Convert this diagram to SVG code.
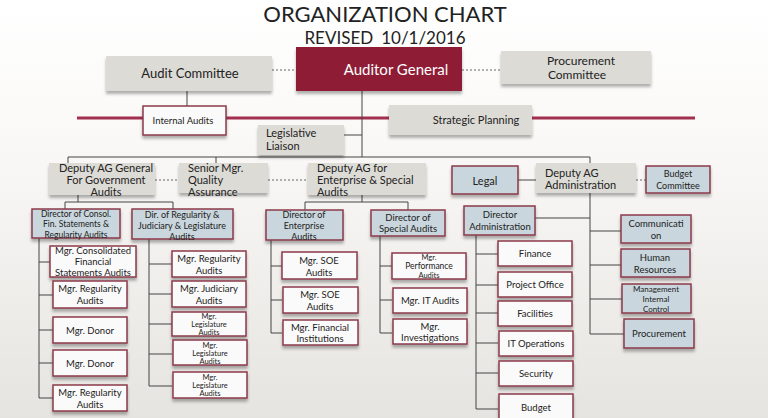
<svg xmlns="http://www.w3.org/2000/svg" width="768" height="418" viewBox="0 0 768 418">
<defs>
<linearGradient id="bg" x1="0" y1="0" x2="0" y2="1"><stop offset="0" stop-color="#ffffff"/><stop offset="0.4" stop-color="#f8f7f5"/><stop offset="1" stop-color="#e6e4e0"/></linearGradient>
<filter id="sh" x="-10%" y="-10%" width="130%" height="150%"><feDropShadow dx="0" dy="3" stdDeviation="1.5" flood-color="#000" flood-opacity="0.3"/></filter>
</defs>
<style>
text{font-family:Lato,"Open Sans","Liberation Sans",sans-serif;fill:#222;text-anchor:middle}
.g{fill:#dddbd6;filter:url(#sh)}
.w{fill:#fbfafa;stroke:#8a3a4a;stroke-width:1.5;filter:url(#sh)}
.b{fill:#c9d6dd;stroke:#8a3a4a;stroke-width:1.5;filter:url(#sh)}
.l{stroke:#444;stroke-width:1;fill:none}
.d{stroke:#666;stroke-width:1;stroke-dasharray:2 2;fill:none}
.s{font-size:9.5px}
.t{font-size:7.5px}
</style>
<rect width="768" height="418" fill="url(#bg)"/>
<text x="385" y="22" font-size="22">ORGANIZATION CHART</text>
<text x="385" y="44" font-size="17">REVISED<tspan dx="8">10/1/2016</tspan></text>
<g id="connectors">
<line x1="77" y1="118" x2="695" y2="118" stroke="#a3304f" stroke-width="3"/>
<path class="l" d="M362 91V157M187 91V106M344 135H362M68 157H590M68 157V163M216 157V163M590 157V163"/>
<path class="d" d="M272 70H296M462 70H501M155 180H179M268 180H308M636 180H646"/>
<path class="l" d="M518 180H536"/>
<path class="l" d="M78 195V202M65 202H173M65 202V209M173 202V209"/>
<path class="l" d="M362 195V202M305 202H408M305 202V210M408 202V210"/>
<path class="l" d="M39 238V398M39 262H50M39 295H53M39 330H53M39 363H53M39 398H53"/>
<path class="l" d="M149 239V386M149 264H172M149 294H172M149 324H172M149 354H172M149 386H172"/>
<path class="l" d="M271 240V333M271 266H282M271 300H282M271 333H282"/>
<path class="l" d="M380 236V333M380 266H392M380 300H392M380 333H392"/>
<path class="l" d="M476 235V409M476 254H498M476 285H498M476 313H498M476 343H498M476 373H498M476 409H498"/>
<path class="l" d="M535 218H590M590 193V334M590 231H621M590 265H621M590 299H622M590 334H624"/>
</g>
<g id="auditor-general"><rect x="296" y="47" width="166" height="44" fill="#8e1a36" filter="url(#sh)"/><text x="396" y="75" font-size="15" style="fill:#fff">Auditor General</text></g>
<g id="audit-committee"><rect class="g" x="106" y="56" width="166" height="35"/><text x="190" y="78" font-size="13">Audit Committee</text></g>
<g id="procurement-committee"><rect class="g" x="501" y="51" width="150" height="33"/><text x="581" y="65" font-size="12">Procurement</text><text x="577" y="79" font-size="12">Committee</text></g>
<g id="internal-audits"><rect class="w" x="143" y="106" width="83" height="29"/><text x="183" y="124" font-size="9.5">Internal  Audits</text></g>
<g id="strategic-planning"><rect class="g" x="389" y="105" width="143" height="30"/><text x="476" y="124" font-size="11">Strategic Planning</text></g>
<g id="legislative-liaison"><rect class="g" x="258" y="125" width="86" height="30"/><text x="266" y="137" font-size="11" style="text-anchor:start">Legislative</text><text x="266" y="150" font-size="11" style="text-anchor:start">Liaison</text></g>
<g id="deputy-ag-gov"><rect class="g" x="49" y="163" width="106" height="32"/><text x="106" y="172" font-size="11">Deputy AG General</text><text x="106" y="184" font-size="11">For Government</text><text x="106" y="196" font-size="11">Audits</text></g>
<g id="senior-qa"><rect class="g" x="179" y="163" width="89" height="30"/><text x="188" y="172" font-size="11" style="text-anchor:start">Senior Mgr.</text><text x="188" y="184" font-size="11" style="text-anchor:start">Quality</text><text x="188" y="196" font-size="11" style="text-anchor:start">Assurance</text></g>
<g id="deputy-ag-ent"><rect class="g" x="308" y="163" width="118" height="32"/><text x="317" y="172" font-size="11" style="text-anchor:start">Deputy AG for</text><text x="317" y="184" font-size="11" style="text-anchor:start">Enterprise &amp; Special</text><text x="317" y="196" font-size="11" style="text-anchor:start">Audits</text></g>
<g id="legal"><rect class="b" x="452" y="166" width="66" height="28"/><text x="485" y="185" font-size="11">Legal</text></g>
<g id="deputy-ag-admin"><rect class="g" x="536" y="163" width="100" height="30"/><text x="545" y="177" font-size="11" style="text-anchor:start">Deputy AG</text><text x="545" y="189" font-size="11" style="text-anchor:start">Administration</text></g>
<g id="budget-committee"><rect class="b" x="646" y="166" width="64" height="27"/><text x="678" y="177" font-size="9">Budget</text><text x="678" y="189" font-size="9">Committee</text></g>
<g id="dir-consol"><rect class="b" x="32" y="209" width="88" height="29"/><text x="76" y="217" font-size="8.5">Director of Consol.</text><text x="76" y="227" font-size="8.5">Fin. Statements &amp;</text><text x="76" y="238" font-size="8.5">Regularity Audits</text></g>
<g id="dir-regularity"><rect class="b" x="132" y="209" width="101" height="30"/><text x="182" y="218" font-size="9">Dir. of Regularity &amp;</text><text x="182" y="229" font-size="9">Judiciary &amp; Legislature</text><text x="182" y="240" font-size="9">Audits</text></g>
<g id="dir-enterprise"><rect class="b" x="266" y="210" width="77" height="30"/><text x="304" y="218" font-size="9">Director of</text><text x="304" y="229" font-size="9">Enterprise</text><text x="304" y="240" font-size="9">Audits</text></g>
<g id="dir-special"><rect class="b" x="371" y="210" width="74" height="26"/><text x="408" y="221" font-size="9.5">Director of</text><text x="408" y="232" font-size="9.5">Special Audits</text></g>
<g id="dir-admin"><rect class="b" x="464" y="206" width="71" height="29"/><text x="500" y="218" font-size="9.5">Director</text><text x="500" y="230" font-size="9.5">Administration</text></g>
<g id="mgr-consolidated"><rect class="w" x="50" y="246" width="86" height="31"/><text x="93" y="254" class="s">Mgr. Consolidated</text><text x="93" y="265" class="s">Financial</text><text x="93" y="276" class="s">Statements Audits</text></g>
<g id="mgr-reg1"><rect class="w" x="53" y="281" width="74" height="27"/><text x="90" y="292" class="s">Mgr. Regularity</text><text x="90" y="304" class="s">Audits</text></g>
<g id="mgr-donor1"><rect class="w" x="53" y="317" width="74" height="26"/><text x="90" y="334" class="s">Mgr. Donor</text></g>
<g id="mgr-donor2"><rect class="w" x="53" y="350" width="74" height="26"/><text x="90" y="367" class="s">Mgr. Donor</text></g>
<g id="mgr-reg2"><rect class="w" x="53" y="385" width="74" height="26"/><text x="90" y="396" class="s">Mgr. Regularity</text><text x="90" y="408" class="s">Audits</text></g>
<g id="mgr-reg3"><rect class="w" x="172" y="251" width="74" height="26"/><text x="209" y="262" class="s">Mgr. Regularity</text><text x="209" y="274" class="s">Audits</text></g>
<g id="mgr-jud"><rect class="w" x="172" y="281" width="74" height="26"/><text x="209" y="292" class="s">Mgr. Judiciary</text><text x="209" y="304" class="s">Audits</text></g>
<g id="mgr-leg1"><rect class="w" x="172" y="312" width="74" height="24"/><text x="209" y="319" class="t">Mgr.</text><text x="209" y="327" class="t">Legislature</text><text x="209" y="335" class="t">Audits</text></g>
<g id="mgr-leg2"><rect class="w" x="173" y="340" width="74" height="25"/><text x="210" y="348" class="t">Mgr.</text><text x="210" y="356" class="t">Legislature</text><text x="210" y="364" class="t">Audits</text></g>
<g id="mgr-leg3"><rect class="w" x="173" y="372" width="74" height="26"/><text x="210" y="380" class="t">Mgr.</text><text x="210" y="388" class="t">Legislature</text><text x="210" y="396" class="t">Audits</text></g>
<g id="mgr-soe1"><rect class="w" x="282" y="252" width="75" height="27"/><text x="319" y="264" class="s">Mgr. SOE</text><text x="319" y="276" class="s">Audits</text></g>
<g id="mgr-soe2"><rect class="w" x="283" y="287" width="75" height="26"/><text x="320" y="298" class="s">Mgr. SOE</text><text x="320" y="310" class="s">Audits</text></g>
<g id="mgr-fin"><rect class="w" x="283" y="320" width="75" height="25"/><text x="320" y="331" class="s">Mgr. Financial</text><text x="320" y="342" class="s">Institutions</text></g>
<g id="mgr-perf"><rect class="w" x="392" y="253" width="74" height="26"/><text x="429" y="260" class="t">Mgr.</text><text x="429" y="269" font-size="8.5">Performance</text><text x="429" y="278" class="t">Audits</text></g>
<g id="mgr-it"><rect class="w" x="393" y="288" width="74" height="25"/><text x="430" y="304" class="s">Mgr. IT Audits</text></g>
<g id="mgr-inv"><rect class="w" x="393" y="319" width="74" height="25"/><text x="430" y="330" class="s">Mgr.</text><text x="430" y="341" class="s">Investigations</text></g>
<g id="finance"><rect class="w" x="498" y="241" width="74" height="25"/><text x="535" y="257" class="s">Finance</text></g>
<g id="project-office"><rect class="w" x="498" y="272" width="74" height="25"/><text x="535" y="288" class="s">Project Office</text></g>
<g id="facilities"><rect class="w" x="498" y="301" width="74" height="25"/><text x="535" y="317" class="s">Facilities</text></g>
<g id="it-operations"><rect class="w" x="499" y="331" width="74" height="25"/><text x="536" y="347" class="s">IT Operations</text></g>
<g id="security"><rect class="w" x="499" y="361" width="74" height="25"/><text x="536" y="377" class="s">Security</text></g>
<g id="budget"><rect class="w" x="499" y="394" width="74" height="26"/><text x="536" y="411" class="s">Budget</text></g>
<g id="communication"><rect class="b" x="621" y="215" width="70" height="28"/><text x="656" y="227" class="s">Communicati</text><text x="656" y="239" class="s">on</text></g>
<g id="human-resources"><rect class="b" x="621" y="249" width="69" height="28"/><text x="655" y="261" class="s">Human</text><text x="655" y="273" class="s">Resources</text></g>
<g id="mic"><rect class="b" x="622" y="284" width="69" height="29"/><text x="656" y="292" font-size="8">Management</text><text x="656" y="302" font-size="8">Internal</text><text x="656" y="312" font-size="8">Control</text></g>
<g id="procurement"><rect class="b" x="624" y="319" width="70" height="29"/><text x="659" y="337" class="s">Procurement</text></g>
</svg>
